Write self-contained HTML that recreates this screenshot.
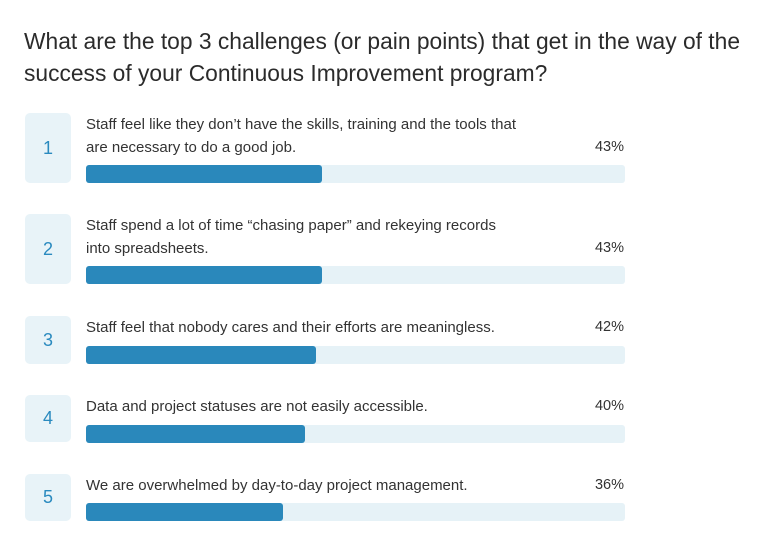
<!DOCTYPE html>
<html><head><style>
body{margin:0;width:768px;height:553px;background:#fff;font-family:"Liberation Sans",sans-serif;position:relative;overflow:hidden;color:#333}
.t{position:absolute;left:24px;top:25px;font-size:22.8px;line-height:32px;color:#2b2b2b;width:744px;white-space:nowrap}
.box{position:absolute;left:25px;width:46px;background:#e8f3f8;border-radius:5px;color:#2a8abf;font-size:18px;display:flex;align-items:center;justify-content:center}
.txt{position:absolute;left:86px;font-size:15px;line-height:23px;color:#333;width:520px;white-space:nowrap}
.pct{position:absolute;left:560px;width:64px;text-align:right;font-size:14.5px;color:#333}
.trk{position:absolute;left:86px;width:539px;height:18px;background:#e6f2f7;border-radius:3px}
.bar{position:absolute;left:0;top:0;height:18px;background:#2a88bb;border-radius:3px}
</style></head><body>
<div class="t">What are the top 3 challenges (or pain points) that get in the way of the<br>success of your Continuous Improvement program?</div>

<div class="box" style="top:113px;height:70px">1</div>
<div class="txt" style="top:113px">Staff feel like they don’t have the skills, training and the tools that<br>are necessary to do a good job.</div>
<div class="pct" style="top:139px">43%</div>
<div class="trk" style="top:165px"><div class="bar" style="width:236px"></div></div>

<div class="box" style="top:214px;height:70px">2</div>
<div class="txt" style="top:214px">Staff spend a lot of time “chasing paper” and rekeying records<br>into spreadsheets.</div>
<div class="pct" style="top:240px">43%</div>
<div class="trk" style="top:266px"><div class="bar" style="width:236px"></div></div>

<div class="box" style="top:316px;height:48px">3</div>
<div class="txt" style="top:316px">Staff feel that nobody cares and their efforts are meaningless.</div>
<div class="pct" style="top:319px">42%</div>
<div class="trk" style="top:346px"><div class="bar" style="width:230px"></div></div>

<div class="box" style="top:395px;height:47px">4</div>
<div class="txt" style="top:395px">Data and project statuses are not easily accessible.</div>
<div class="pct" style="top:398px">40%</div>
<div class="trk" style="top:425px"><div class="bar" style="width:219px"></div></div>

<div class="box" style="top:474px;height:47px">5</div>
<div class="txt" style="top:474px">We are overwhelmed by day-to-day project management.</div>
<div class="pct" style="top:477px">36%</div>
<div class="trk" style="top:503px"><div class="bar" style="width:197px"></div></div>
</body></html>
